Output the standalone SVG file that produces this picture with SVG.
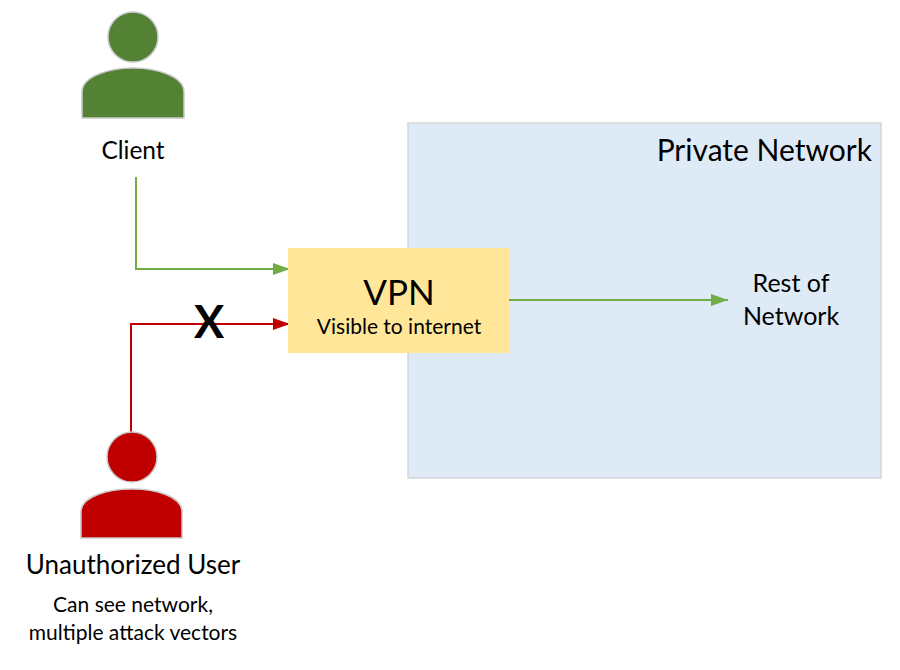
<svg xmlns="http://www.w3.org/2000/svg" width="900" height="670" viewBox="0 0 900 670">
<style>
text{font-family:"Lato","Open Sans",sans-serif;fill:#000}
.person-g{fill:#548235;stroke:#C9C9C9;stroke-width:1.5}
.person-r{fill:#C00000;stroke:#C9C9C9;stroke-width:1.5}
.gl{fill:none;stroke:#70AD47;stroke-width:2}
.rl{fill:none;stroke:#C00000;stroke-width:2}
</style>
<defs>
<marker id="ag" markerWidth="17" markerHeight="12" refX="17" refY="6" orient="auto" markerUnits="userSpaceOnUse" viewBox="0 0 17 12"><path d="M0,0 L17,6 L0,12 Z" fill="#70AD47"/></marker>
<marker id="ar" markerWidth="17" markerHeight="12" refX="17" refY="6" orient="auto" markerUnits="userSpaceOnUse" viewBox="0 0 17 12"><path d="M0,0 L17,6 L0,12 Z" fill="#C00000"/></marker>
</defs>
<rect width="900" height="670" fill="#fff"/>
<g id="private-network">
<rect x="408" y="123" width="473" height="355" fill="#DEEBF7" stroke="#D3D6DA" stroke-width="1.5"/>
<text x="872" y="161" font-size="30" text-anchor="end">Private Network</text>
</g>
<g id="rest-of-network">
<text x="791" y="292" font-size="25" text-anchor="middle">Rest of</text>
<text x="791" y="325" font-size="25" text-anchor="middle">Network</text>
</g>
<g id="connectors">
<path class="gl" d="M136,177 V269 H290" marker-end="url(#ag)"/>
<path class="rl" d="M131,432 V324 H290" marker-end="url(#ar)"/>
<path class="gl" d="M509,300 H728" marker-end="url(#ag)"/>
<text x="209" y="338" font-size="45" font-weight="bold" text-anchor="middle" font-family="Liberation Sans, sans-serif">X</text>
</g>
<g id="vpn">
<rect x="288" y="248" width="221" height="105" fill="#FFE699"/>
<text x="399" y="305" font-size="35" text-anchor="middle">VPN</text>
<text x="399" y="334" font-size="21" text-anchor="middle">Visible to internet</text>
</g>
<g id="client">
<circle class="person-g" cx="133" cy="37" r="25"/>
<path class="person-g" d="M82,118 V92 C82,76 110,68 133,68 C156,68 184,76 184,92 V118 Z"/>
<text x="133" y="159" font-size="24.5" text-anchor="middle">Client</text>
</g>
<g id="unauthorized-user">
<circle class="person-r" cx="132" cy="457" r="25"/>
<path class="person-r" d="M81,538 V512 C81,496 109,489 132,489 C155,489 182,496 182,512 V538 Z"/>
<text x="133" y="574" font-size="26" text-anchor="middle">Unauthorized User</text>
<text x="133" y="612" font-size="21" text-anchor="middle">Can see network,</text>
<text x="133" y="640" font-size="21" text-anchor="middle">multiple attack vectors</text>
</g>
</svg>
